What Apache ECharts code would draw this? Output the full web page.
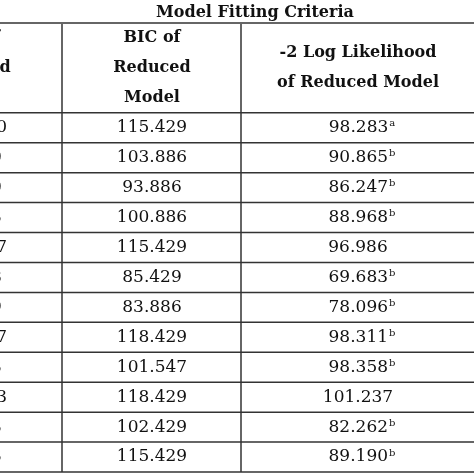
<!DOCTYPE html>
<html><head><meta charset="utf-8">
<script src="https://cdn.jsdelivr.net/npm/echarts@6/dist/echarts.min.js"></script>
<style>html,body{margin:0;padding:0;background:#fff}#c{width:474px;height:474px}</style>
</head><body><div id="c"></div>
<script>
const title = "Model Fitting Criteria";
const headers = ["AIC of\nReduced\nModel", "BIC of\nReduced\nModel", "-2 Log Likelihood\nof Reduced Model"];
const aicValues = ["102.280", "94.860", "88.250", "93.963", "104.987", "73.428", "82.099", "104.317", "93.363", "105.243", "86.263", "93.193"];
const bicValues = ["115.429", "103.886", "93.886", "100.886", "115.429", "85.429", "83.886", "118.429", "101.547", "118.429", "102.429", "115.429"];
const llValues = ["98.283", "90.865", "86.247", "88.968", "96.986", "69.683", "78.096", "98.311", "98.358", "101.237", "82.262", "89.190"];
const llMarks = ["a", "b", "b", "b", "", "b", "b", "b", "b", "", "b", "b"];

const colCenters = [-28, 152, 358];
const colEdges = [62, 241];
const serif = "DejaVu Serif";

const cells = [];
for (let i = 0; i < bicValues.length; i++) {
  cells.push([colCenters[0], 3.5 + i, aicValues[i], ""]);
  cells.push([colCenters[1], 3.5 + i, bicValues[i], ""]);
  cells.push([colCenters[2], 3.5 + i, llValues[i], llMarks[i]]);
}
const headerCells = headers.map((h, j) => [colCenters[j], 1.5, h]);

const hLines = [0, 3]; for (let i = 1; i <= bicValues.length; i++) hLines.push(3 + i);

const chart = echarts.init(document.getElementById('c'), null, {renderer: 'canvas'});
chart.setOption({
  animation: false,
  title: {text: title, left: 250, top: 0, textAlign: 'center',
    textStyle: {fontFamily: serif, fontWeight: 'bold', fontSize: 16, color: '#111'}},
  grid: {left: 0, right: 0, top: 23, bottom: 2},
  xAxis: {type: 'value', min: 0, max: 474, show: false},
  yAxis: {type: 'value', min: 0, max: 15, inverse: true, show: false},
  series: [
    {type: 'custom', data: hLines.map(v => [v]), renderItem: (p, api) => {
      const a = api.coord([0, api.value(0)]), b = api.coord([474, api.value(0)]);
      return {type: 'line', shape: {x1: a[0], y1: a[1], x2: b[0], y2: b[1]}, style: {stroke: '#333', lineWidth: 1.5}};
    }},
    {type: 'custom', data: colEdges.map(v => [v]), renderItem: (p, api) => {
      const a = api.coord([api.value(0), 0.03]), b = api.coord([api.value(0), 15]);
      return {type: 'line', shape: {x1: a[0], y1: a[1], x2: b[0], y2: b[1]}, style: {stroke: '#333', lineWidth: 1.5}};
    }},
    {type: 'custom', data: headerCells, renderItem: (p, api) => {
      const c = api.coord([api.value(0), api.value(1)]);
      return {type: 'text', x: c[0], y: c[1], style: {text: headerCells[p.dataIndex][2], align: 'center', verticalAlign: 'middle',
        font: 'bold 16px "' + serif + '"', lineHeight: 30, fill: '#111'}};
    }},
    {type: 'custom', data: cells, renderItem: (p, api) => {
      const d = cells[p.dataIndex];
      const c = api.coord([d[0], d[1]]);
      const t = d[3] ? '{n|' + d[2] + '}{s|' + d[3] + '}' : '{n|' + d[2] + '}';
      return {type: 'text', x: c[0] + (d[3] ? 4 : 0), y: c[1], style: {text: t, align: 'center', verticalAlign: 'middle',
        rich: {n: {fontFamily: serif, fontSize: 17, fill: '#111', color: '#111'},
               s: {fontFamily: serif, fontSize: 10, color: '#111', fill: '#111', verticalAlign: 'top', padding: [0,0,8,1]}}}};
    }}
  ]
});
</script></body></html>
